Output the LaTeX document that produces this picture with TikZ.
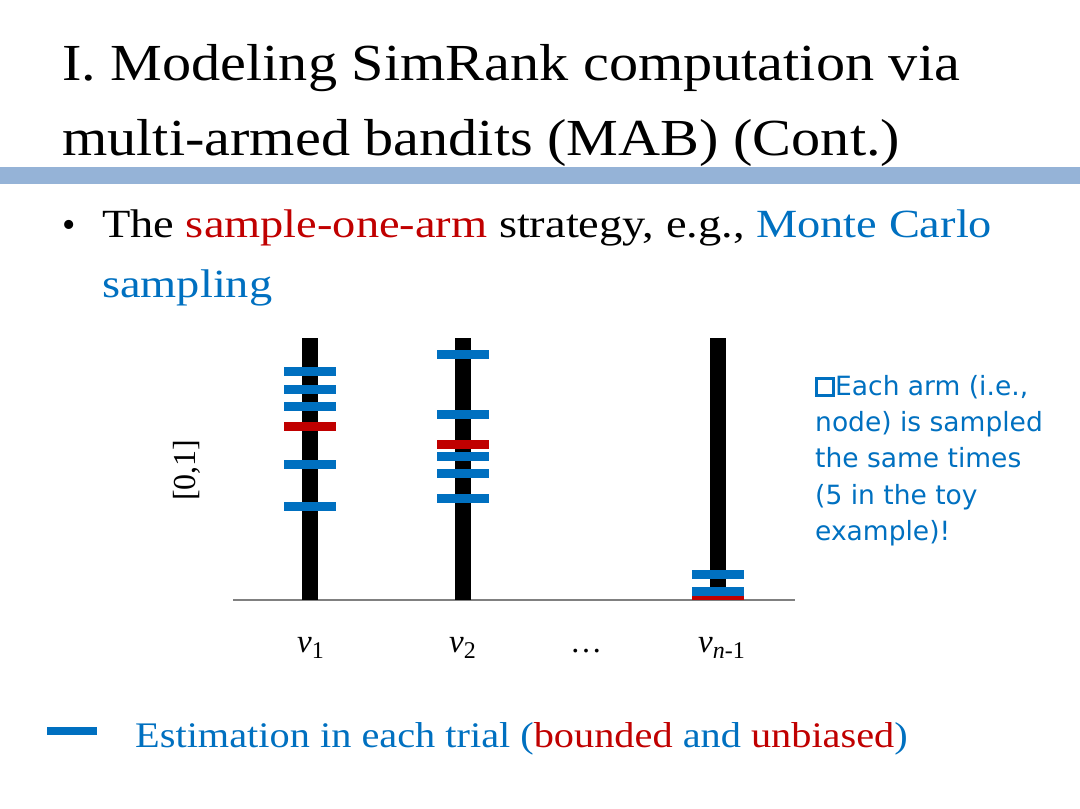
\documentclass[tikz,border=0pt]{standalone}
\usepackage{fontspec}
\setmainfont{Liberation Serif}
\newfontfamily\notefont{DejaVu Sans}
\definecolor{ured}{RGB}{192,0,0}
\definecolor{ublue}{RGB}{0,112,192}
\definecolor{band}{RGB}{149,179,215}
\begin{document}
\begin{tikzpicture}[x=1pt,y=-1pt,
  bar/.style={fill=black},
  btick/.style={fill=ublue},
  rtick/.style={fill=ured},
  txt/.style={anchor=base west,inner sep=0pt}]
\useasboundingbox (0,0) rectangle (1080,809);
\fill[band] (0,167) rectangle (1080,184);
\node[txt,font=\fontsize{52}{52}\selectfont,xscale=1.12] (t1) at (62,80) {I. Modeling SimRank computation via};
\node[txt,font=\fontsize{52}{52}\selectfont,xscale=1.12] (t2) at (62,155) {multi-armed bandits (MAB) (Cont.)};
\node[txt,font=\fontsize{38}{38}\selectfont] (bul) at (62,237) {\textbullet};
\node[txt,font=\fontsize{40}{40}\selectfont,xscale=1.16] (b1) at (102,237) {The \textcolor{ured}{sample-one-arm} strategy, e.g., \textcolor{ublue}{Monte Carlo}};
\node[txt,font=\fontsize{40}{40}\selectfont,xscale=1.16,text=ublue] (b2) at (102,297) {sampling};
% axis
\draw[gray,line width=1.5pt] (233,600) -- (795,600);
\foreach \x in {310,463,718} \fill[bar] (\x-8,338) rectangle (\x+8,600);
\foreach \y in {371,389,406,464,506} \fill[btick] (284,\y-4.5) rectangle (336,\y+4.5);
\fill[rtick] (284,422) rectangle (336,431);
\foreach \y in {354,414,456,473,498} \fill[btick] (437,\y-4.5) rectangle (489,\y+4.5);
\fill[rtick] (437,440) rectangle (489,449);
\fill[btick] (692,570) rectangle (744,579);
\fill[btick] (692,587) rectangle (744,596);
\fill[rtick] (692,596) rectangle (744,600);
\node[font=\fontsize{32}{32}\selectfont,rotate=90] (lab) at (187,470) {[0,1]};
\node[txt,font=\fontsize{33}{33}\selectfont] (v1) at (297,652) {\textit{v}\fontsize{24}{24}\selectfont\raisebox{-6pt}{1}};
\node[txt,font=\fontsize{33}{33}\selectfont] (v2) at (449,652) {\textit{v}\fontsize{24}{24}\selectfont\raisebox{-6pt}{2}};
\node[txt,font=\fontsize{32}{32}\selectfont] (dots) at (570,652) {\dots};
\node[txt,font=\fontsize{33}{33}\selectfont] (vn) at (698,652) {\textit{v}\fontsize{24}{24}\selectfont\raisebox{-6pt}{\textit{n}-1}};
\node[anchor=north west,inner sep=0pt,align=left,text=ublue,font=\notefont\fontsize{26.5}{36.3}\selectfont] (note) at (815,375)
 {{\fboxsep=0pt\fboxrule=3pt\raisebox{1pt}{\fcolorbox{ublue}{white}{\rule{0pt}{14pt}\hspace{14pt}}}}Each arm (i.e.,\\node) is sampled\\the same times\\(5 in the toy\\example)!};
\fill[ublue] (47,727) rectangle (97,735);
\node[txt,font=\fontsize{36}{36}\selectfont,xscale=1.12,text=ublue] (leg) at (135,747) {Estimation in each trial (\textcolor{ured}{bounded} and \textcolor{ured}{unbiased})};
\end{tikzpicture}
\end{document}
